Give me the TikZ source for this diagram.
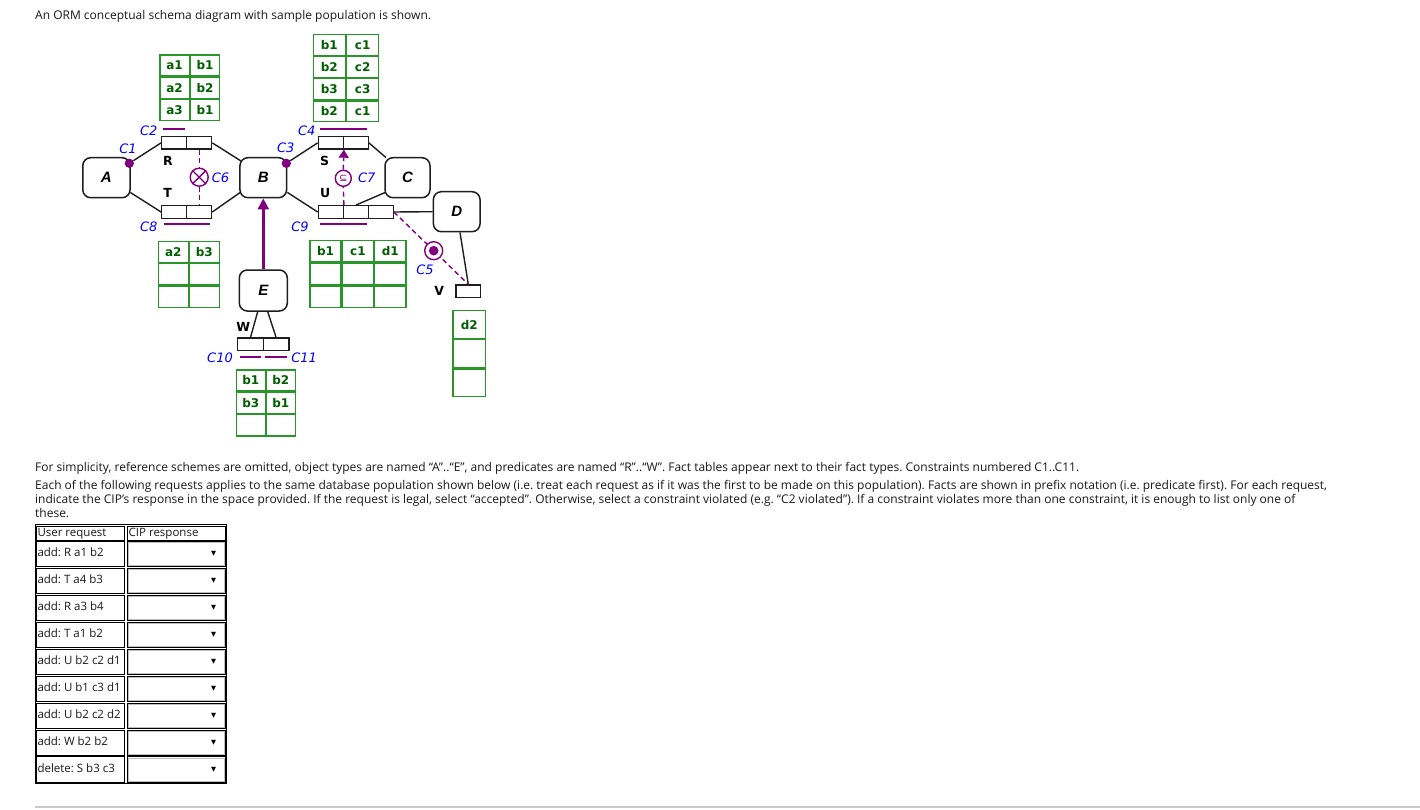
\documentclass[tikz,border=0pt]{standalone}
\usepackage{fontspec}
\setmainfont{Open Sans}
\newfontfamily\djv{DejaVu Sans}
\newfontfamily\lib{Liberation Sans}
\usetikzlibrary{calc,matrix,arrows.meta}
\definecolor{ormpurple}{RGB}{128,0,128}
\definecolor{cblue}{RGB}{0,0,255}
\definecolor{tgreen}{RGB}{40,150,40}
\definecolor{ttext}{RGB}{0,95,0}
\definecolor{linecol}{RGB}{30,30,30}
\definecolor{bodycol}{RGB}{25,25,25}
\definecolor{rulecol}{RGB}{200,200,200}
\begin{document}
\frenchspacing
\begin{tikzpicture}[x=1pt,y=-1pt,
  bodytext/.style={anchor=base west, inner sep=0pt, text=bodycol, font=\frenchspacing\fontsize{12}{14}\selectfont},
  objtype/.style={draw=linecol, line width=1.5pt, rounded corners=8pt, minimum width=#1, minimum height=40pt, inner sep=0pt, font=\lib\bfseries\itshape\fontsize{15}{15}\selectfont},
  role/.style={draw=linecol, line width=1.2pt, minimum width=#1, minimum height=12.5pt, inner sep=0pt, fill=white},
  role/.default=25pt,
  conn/.style={draw=linecol, line width=1.4pt},
  clabel/.style={text=cblue, font=\djv\itshape\fontsize{13}{13}\selectfont, inner sep=0pt},
  plabel/.style={font=\djv\bfseries\fontsize{12.5}{12.5}\selectfont, inner sep=0pt},
  ubar/.style={draw=ormpurple, line width=1.8pt},
  cdash/.style={draw=ormpurple, line width=1.4pt, dash pattern=on 5pt off 3.5pt},
  cdot/.style={circle, fill=ormpurple, minimum size=9pt, inner sep=0pt},
  ccirc/.style={circle, draw=ormpurple, line width=1.4pt, minimum size=#1, inner sep=0pt, fill=white},
  subarrow/.style={draw=ormpurple, line width=2.5pt, -{Triangle[length=11pt,width=11pt]}},
  tab/.style 2 args={matrix of nodes, nodes in empty cells, anchor=north west, inner sep=0pt, outer sep=0pt, column sep=0pt, row sep=0pt,
     nodes={draw=tgreen, line width=1.3pt, minimum width=#1, minimum height=#2, inner sep=0pt, outer sep=0pt, anchor=center, text=ttext, font=\djv\bfseries\fontsize{12}{12}\selectfont}},
  cellbox/.style 2 args={draw=black, line width=1pt, minimum height=#1, minimum width=#2, inner sep=0pt},
  celltext/.style={anchor=base west, inner sep=0pt, text=bodycol, font=\frenchspacing\fontsize{11.5}{13}\selectfont},
  selectbox/.style={draw=black!25, line width=1pt, fill=white, minimum width=95.5pt, minimum height=23pt, inner sep=0pt},
  arrowglyph/.style={inner sep=0pt, font=\djv\fontsize{6.5}{6.5}\selectfont}
]
\useasboundingbox (0,0) rectangle (1420,810);
\fill[white] (0,0) rectangle (1420,810);

% ---------- texts ----------
\node[bodytext] (title) at (35,20) {An ORM conceptual schema diagram with sample population is shown.};
\node[bodytext] (p1) at (35,471) {For simplicity, reference schemes are omitted, object types are named “A”..“E”, and predicates are named “R”..“W”. Fact tables appear next to their fact types. Constraints numbered C1..C11.};
\node[bodytext] (p2) at (35,489) {Each of the following requests applies to the same database population shown below (i.e. treat each request as if it was the first to be made on this population). Facts are shown in prefix notation (i.e. predicate first). For each request,};
\node[bodytext] (p3) at (35,503) {indicate the CIP's response in the space provided. If the request is legal, select “accepted”. Otherwise, select a constraint violated (e.g. “C2 violated”). If a constraint violates more than one constraint, it is enough to list only one of};
\node[bodytext] (p4) at (35,517) {these.};

% ---------- object types ----------
\node[objtype=47.3pt] (A) at (106.4,177.7) {A};
\node[objtype=46.7pt] (B) at (263.3,177.7) {B};
\node[objtype=45pt] (C) at (407.5,177.7) {C};
\node[objtype=46.7pt] (D) at (456.7,211.7) {D};
\node[objtype=48pt, minimum height=41pt] (E) at (263.3,290.5) {E};

% ---------- roles ----------
\node[role] (R1) at (174.2,142.85) {};
\node[role] (R2) at (199.2,142.85) {};
\node[role] (T1) at (174.2,212) {};
\node[role] (T2) at (199.2,212) {};
\node[role] (S1) at (330.8,142.85) {};
\node[role] (S2) at (355.8,142.85) {};
\node[role] (U1) at (330.8,212) {};
\node[role] (U2) at (355.8,212) {};
\node[role] (U3) at (380.8,212) {};
\node[role=24.5pt] (V) at (468.3,291.2) {};
\node[role=25.6pt] (W1) at (250.5,344.2) {};
\node[role=25.6pt] (W2) at (276.1,344.2) {};

% ---------- predicate names ----------
\node[plabel] (nR) at (168,161.3) {R};
\node[plabel] (nT) at (167.7,193.3) {T};
\node[plabel] (nS) at (324.7,161.3) {S};
\node[plabel] (nU) at (325.3,193.3) {U};
\node[plabel] (nV) at (439.3,290.7) {V};
\node[plabel] (nW) at (243.3,327.3) {W};

% ---------- connectors ----------
\node[cdot] (c1) at (129.3,163.3) {};
\node[cdot] (c3) at (286.3,163.3) {};
\draw[conn] (c1) -- (R1.west);
\draw[conn] (R2.east) -- ($(B.north west)+(1.7,4)$);
\draw[conn] ($(A.south east)+(-0.5,-6)$) -- (T1.west);
\draw[conn] (T2.east) -- ($(B.south west)+(1,-6)$);
\draw[conn] (c3) -- (S1.west);
\draw[conn] (S2.east) -- ($(C.north west)+(1.7,0.6)$);
\draw[conn] ($(B.south east)+(0,-6)$) -- (U1.west);
\draw[conn] (U2.north) -- ($(C.south west)+(1,-6)$);
\draw[conn] (U3.east) -- (D.west);
\draw[conn] ($(D.south)+(3.3,0)$) -- (V.north);
\draw[conn] ($(E.south)+(-5.6,0)$) -- (W1.north);
\draw[conn] ($(E.south)+(4.4,0)$) -- (W2.north);
\node[cdot] at (c1) {};
\node[cdot] at (c3) {};
\draw[subarrow] (E.north) -- (B.south);

% ---------- uniqueness bars ----------
\draw[ubar] ($(R1.north west)+(2.3,-6.7)$) -- ($(R1.north east)+(-2.7,-6.7)$);
\draw[ubar] ($(T1.south west)+(2.6,5)$) -- ($(T2.south east)+(-2.7,5)$);
\draw[ubar] ($(S1.north west)+(2.4,-6.7)$) -- ($(S2.north east)+(-2.3,-6.7)$);
\draw[ubar] ($(U1.south west)+(2.4,5)$) -- ($(U2.south east)+(-2.3,5)$);
\draw[ubar] ($(W1.south west)+(3.3,6)$) -- ($(W1.south east)+(-3.3,6)$);
\draw[ubar] ($(W2.south west)+(2.7,6)$) -- ($(W2.south east)+(-3,6)$);

% ---------- C6 exclusion ----------
\node[ccirc=18pt] (c6) at (199.2,177.2) {};
\draw[cdash] (R2.south) -- (c6.north);
\draw[cdash] (c6.south) -- (T2.north);
\draw[ormpurple, line width=1.4pt] (c6.north east) -- (c6.south west) (c6.north west) -- (c6.south east);

% ---------- C7 subset ----------
\node[ccirc=16pt, text=ormpurple, font=\djv\fontsize{10}{10}\selectfont] (c7) at (343.3,178.3) {⊆};
\draw[cdash] (U1.north east) -- (c7.south);
\draw[cdash, -{Triangle[length=8pt,width=10pt]}] (c7.north) -- (S1.south east);

% ---------- C5 ----------
\coordinate (c5pos) at ($(U3.east)!0.535!(V.north)$);
\draw[cdash] (U3.east) -- (V.north);
\node[ccirc=18pt] (c5) at (c5pos) {};
\fill[ormpurple] (c5.center) circle (4.8pt);

% ---------- constraint labels ----------
\node[clabel] (lC1) at (128,148.7) {C1};
\node[clabel] (lC2) at (148.8,131) {C2};
\node[clabel] (lC3) at (285.8,147.5) {C3};
\node[clabel] (lC4) at (306.7,130.8) {C4};
\node[clabel] (lC5) at (425,269.3) {C5};
\node[clabel] (lC6) at (220.5,177.5) {C6};
\node[clabel] (lC7) at (366.7,177.5) {C7};
\node[clabel] (lC8) at (148.8,226.7) {C8};
\node[clabel] (lC9) at (300,226.7) {C9};
\node[clabel] (lC10) at (220,357.5) {C10};
\node[clabel] (lC11) at (304.2,357.5) {C11};

% ---------- fact tables ----------
\matrix (tR) [tab={29.2pt}{21pt}] at (159.3,54.3) {a1 & b1\\ a2 & b2\\ a3 & b1\\};
\matrix (tS) [tab={32pt}{20.8pt}] at (312.7,34) {b1 & c1\\ b2 & c2\\ b3 & c3\\ b2 & c1\\};
\matrix (tT) [tab={29.8pt}{21.1pt}] at (157.7,240.7) {a2 & b3\\ & \\ & \\};
\matrix (tU) [tab={31.1pt}{21.3pt}] at (309.3,240) {b1 & c1 & d1\\ & & \\ & & \\};
\matrix (tV) [tab={32.7pt}{27.8pt}] at (452.3,310) {d2\\ \\ \\};
\matrix (tW) [tab={28.8pt}{21.1pt}] at (235.7,369.3) {b1 & b2\\ b3 & b1\\ & \\};

% ---------- request table ----------
\draw[black, line width=1pt] (35,524.5) rectangle (226.7,783.5);
\node[cellbox={13.7pt}{88pt}] (hq) at (80.5,533.2) {};
\node[cellbox={13.7pt}{98pt}] (hr) at (176,533.2) {};
\node[celltext] (hqt) at (37.3,536.6) {User request};
\node[celltext] (hrt) at (128.5,536.6) {CIP response};
\foreach \i/\req in {1/{add: R a1 b2},2/{add: T a4 b3},3/{add: R a3 b4},4/{add: T a1 b2},5/{add: U b2 c2 d1},6/{add: U b1 c3 d1},7/{add: U b2 c2 d2},8/{add: W b2 b2},9/{delete: S b3 c3}} {
  \pgfmathsetmacro\yc{541.7+26.9*(\i-1)+12.6}
  \pgfmathsetmacro\yb{\yc+2.6}
  \node[cellbox={25.2pt}{88pt}] (q\i) at (80.5,\yc) {};
  \node[celltext] (qt\i) at (37.3,\yb) {\req};
  \node[cellbox={25.2pt}{98pt}] (r\i) at (176,\yc) {};
  \node[selectbox] (s\i) at (176.6,\yc) {};
  \node[arrowglyph] (g\i) at (213.5,\yc) {▼};
}

% ---------- bottom rule ----------
\draw[rulecol, line width=1.4pt] (35,807) -- (1420,807);
\end{tikzpicture}
\end{document}
